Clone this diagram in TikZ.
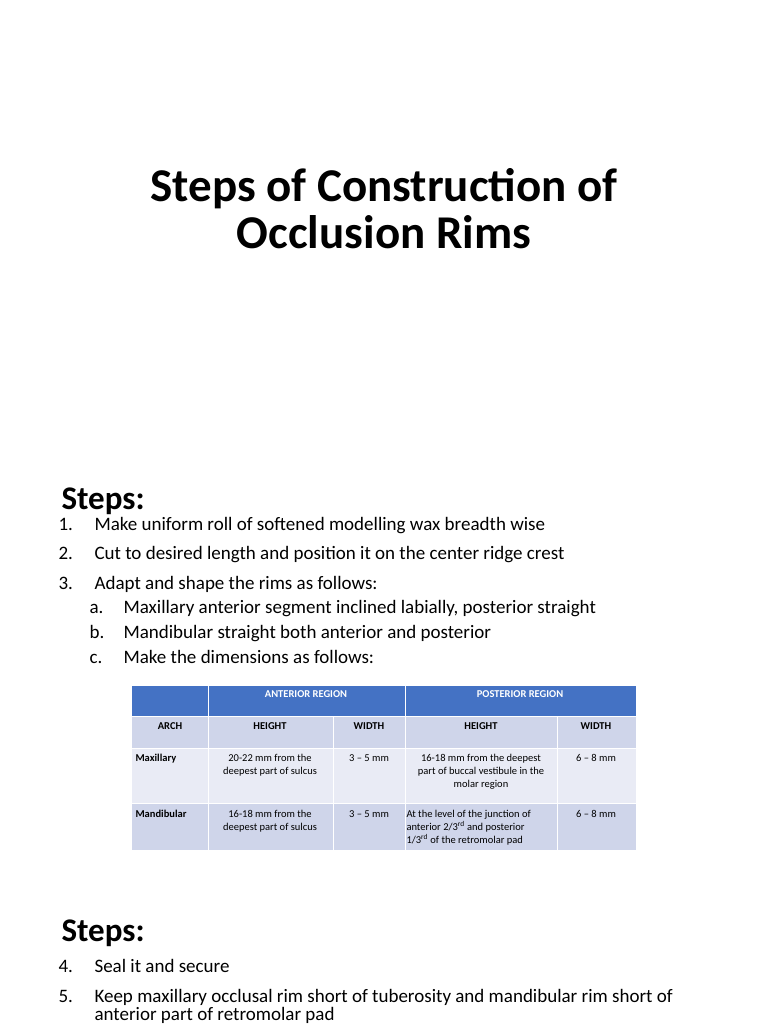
\documentclass[tikz,border=0pt]{standalone}
\usepackage{fontspec}
\setmainfont{Carlito}
\begin{document}
\begin{tikzpicture}[x=1pt,y=-1pt,
  title/.style={font=\fontsize{47}{47}\selectfont\bfseries,align=center},
  head/.style={font=\fontsize{33}{36}\selectfont\bfseries,anchor=base west},
  item/.style={font=\fontsize{19}{22}\selectfont,anchor=base west},
  cell/.style={font=\fontsize{10.5}{13}\selectfont,align=center,anchor=north},
  tb/.style={draw=white,line width=1pt}]
\useasboundingbox (0,0) rectangle (768,1024);
\fill[white] (0,0) rectangle (768,1024);
\node[title] (t) at (384,209) {Steps of Construction of\\Occlusion Rims};
\node[head] (s1) at (58,509) {Steps:};
\foreach \n/\y/\t in {1./530/Make uniform roll of softened modelling wax breadth wise,
 2./559/Cut to desired length and position it on the center ridge crest,
 3./589/Adapt and shape the rims as follows:}{
 \node[item] at (55,\y) {\n}; \node[item] at (91,\y) {\t};}
\foreach \n/\y/\t in {a./613/{Maxillary anterior segment inclined labially, posterior straight},
 b./638/Mandibular straight both anterior and posterior,
 c./663/Make the dimensions as follows:}{
 \node[item] at (86,\y) {\n}; \node[item] at (120,\y) {\t};}
% table
\fill[fill={rgb,255:red,68;green,114;blue,196}] (132,686) rectangle (636,716);
\fill[fill={rgb,255:red,207;green,213;blue,234}] (132,716) rectangle (636,748);
\fill[fill={rgb,255:red,233;green,235;blue,245}] (132,748) rectangle (636,803);
\fill[fill={rgb,255:red,207;green,213;blue,234}] (132,803) rectangle (636,850);
\foreach \y in {716,748,803}{\draw[tb] (132,\y) -- (636,\y);}
\draw[tb] (208,686) -- (208,850);
\draw[tb] (405,686) -- (405,850);
\draw[tb] (333,716) -- (333,850);
\draw[tb] (557,716) -- (557,850);
\node[cell,text=white] (ar) at (306,687) {\textbf{ANTERIOR REGION}};
\node[cell,text=white] (pr) at (520,687) {\textbf{POSTERIOR REGION}};
\node[cell] at (170,719) {\textbf{ARCH}};
\node[cell] at (270,719) {\textbf{HEIGHT}};
\node[cell] at (369,719) {\textbf{WIDTH}};
\node[cell] at (481,719) {\textbf{HEIGHT}};
\node[cell] at (596,719) {\textbf{WIDTH}};
\node[cell,anchor=north west] at (132,751) {\textbf{Maxillary}};
\node[cell] at (270,751) {20-22 mm from the\\deepest part of sulcus};
\node[cell] at (369,751) {3 -- 5 mm};
\node[cell] at (481,751) {16-18 mm from the deepest\\part of buccal vestibule in the\\molar region};
\node[cell] at (596,751) {6 -- 8 mm};
\node[cell,anchor=north west] at (132,807) {\textbf{Mandibular}};
\node[cell] at (270,807) {16-18 mm from the\\deepest part of sulcus};
\node[cell] at (369,807) {3 -- 5 mm};
\node[cell,align=left,anchor=north west] at (403,807) {At the level of the junction of\\anterior 2/3\textsuperscript{rd} and posterior\\1/3\textsuperscript{rd} of the retromolar pad};
\node[cell] at (596,807) {6 -- 8 mm};
\node[head] (s2) at (58,941) {Steps:};
\node[item] at (55,972) {4.}; \node[item] at (91,972) {Seal it and secure};
\node[item] at (55,1002) {5.}; \node[item] at (91,1002) {Keep maxillary occlusal rim short of tuberosity and mandibular rim short of};
\node[item] at (91,1020) {anterior part of retromolar pad};
\end{tikzpicture}
\end{document}
